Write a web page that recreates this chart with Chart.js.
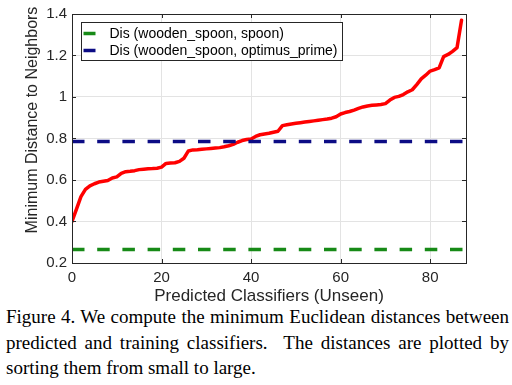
<!DOCTYPE html>
<html>
<head>
<meta charset="utf-8">
<script src="https://cdn.jsdelivr.net/npm/chart.js@4"></script>
<style>
  body { margin: 0; background: #fff; width: 512px; }
  #wrap { position: relative; width: 512px; height: 308px; }
  #caption {
    font-family: "Liberation Serif", "Times New Roman", serif;
    font-size: 19px;
    line-height: 25.5px;
    color: #000;
    margin: -4px 3px 0 6px;
    text-align: justify;
    text-align-last: left;
  }
</style>
</head>
<body>
<div id="wrap"><canvas id="main-chart" width="512" height="308"></canvas></div>
<div id="caption">Figure 4. We compute the minimum Euclidean distances between predicted and training classifiers. &nbsp;The distances are plotted by sorting them from small to large.</div>
<script>
// sorted minimum distances, one per predicted classifier (index 0..87)
const distances = [
    0.40, 0.46, 0.52, 0.555, 0.572, 0.582, 0.59, 0.594, 0.598, 0.61,
    0.615, 0.632, 0.64, 0.642, 0.645, 0.65, 0.652, 0.654, 0.655, 0.657,
    0.662, 0.68, 0.682, 0.683, 0.69, 0.705, 0.74, 0.745, 0.746, 0.748,
    0.75, 0.752, 0.754, 0.756, 0.76, 0.765, 0.772, 0.782, 0.79, 0.795,
    0.798, 0.81, 0.818, 0.822, 0.825, 0.83, 0.835, 0.862, 0.866, 0.87,
    0.873, 0.876, 0.879, 0.882, 0.885, 0.888, 0.891, 0.894, 0.898, 0.905,
    0.918, 0.925, 0.93, 0.937, 0.945, 0.952, 0.957, 0.96, 0.962, 0.964,
    0.968, 0.985, 0.998, 1.003, 1.012, 1.025, 1.035, 1.06, 1.087, 1.105,
    1.125, 1.132, 1.14, 1.195, 1.205, 1.22, 1.238, 1.37
];

// reference distances drawn as dashed horizontal lines
const refLabels = ['Dis (wooden_spoon, spoon)', 'Dis (wooden_spoon, optimus_prime)'];
const refValues = [0.265, 0.786];
const refColors = ['#178a17', '#0c0c85'];

const xLimits = [0, 88];
const yLimits = [0.2, 1.4];
const xTicks = [0, 20, 40, 60, 80];
const yTicks = [0.2, 0.4, 0.6, 0.8, 1.0, 1.2, 1.4];

const axisColor = '#262626';
const sans = '"Liberation Sans", Arial, sans-serif';
const yTitle = 'Minimum Distance to Neighbors';

// MATLAB-ish box, inner tick marks, y label and legend
const boxPlugin = {
    id: 'matlabBox',
    afterDatasetsDraw(chart) {
        const { ctx, chartArea: a, scales } = chart;
        ctx.save();
        ctx.strokeStyle = axisColor;
        ctx.lineWidth = 1;
        ctx.beginPath();
        xTicks.forEach(v => {
            const px = Math.round(scales.x.getPixelForValue(v)) + 0.5;
            ctx.moveTo(px, a.bottom); ctx.lineTo(px, a.bottom - 4);
            ctx.moveTo(px, a.top); ctx.lineTo(px, a.top + 4);
        });
        yTicks.forEach(v => {
            const py = Math.round(scales.y.getPixelForValue(v)) + 0.5;
            ctx.moveTo(a.left, py); ctx.lineTo(a.left + 4, py);
            ctx.moveTo(a.right, py); ctx.lineTo(a.right - 4, py);
        });
        ctx.stroke();
        ctx.strokeRect(Math.round(a.left) + 0.5, Math.round(a.top) + 0.5,
            Math.round(a.right - a.left), Math.round(a.bottom - a.top));

        // y axis label, sits a bit above the axis centre like the original
        ctx.save();
        ctx.translate(33, 120);
        ctx.rotate(-Math.PI / 2);
        ctx.font = '16px ' + sans;
        ctx.fillStyle = axisColor;
        ctx.textAlign = 'center';
        ctx.textBaseline = 'middle';
        ctx.fillText(yTitle, 0, 0);
        ctx.restore();

        // legend box
        ctx.font = '14px ' + sans;
        const textW = Math.max(...refLabels.map(t => ctx.measureText(t).width));
        const bx = a.left + 9.5, by = a.top + 8.5;
        const bw = Math.round(textW + 33), bh = 38;
        ctx.fillStyle = '#fff';
        ctx.fillRect(bx, by, bw, bh);
        ctx.strokeRect(bx, by, bw, bh);
        ctx.textBaseline = 'middle';
        refLabels.forEach((t, i) => {
            const ly = by + 11 + i * 17;
            ctx.strokeStyle = refColors[i];
            ctx.lineWidth = 3.5;
            ctx.beginPath();
            ctx.moveTo(bx + 2, ly); ctx.lineTo(bx + 14, ly);
            ctx.stroke();
            ctx.fillStyle = '#000';
            ctx.fillText(t, bx + 28, ly + 1);
        });
        ctx.restore();
    }
};

class ChartManager {
    constructor() {
        this.chart = null;
        this.initializeChart();
    }

    initializeChart() {
        const ctx = document.getElementById('main-chart').getContext('2d');
        const tickFont = { family: sans, size: 15 };
        const titleFont = { family: sans, size: 17 };

        const refSets = refValues.map((v, i) => ({
            label: refLabels[i],
            data: [{ x: xLimits[0], y: v }, { x: xLimits[1], y: v }],
            borderColor: refColors[i],
            borderWidth: 3.5,
            borderDash: [12.5, 12.7],
            pointRadius: 0,
            fill: false
        }));

        this.chart = new Chart(ctx, {
            type: 'line',
            data: {
                datasets: [...refSets, {
                    label: 'Distance',
                    data: distances.map((v, i) => ({ x: i, y: v })),
                    borderColor: '#ff0000',
                    borderWidth: 3.5,
                    borderJoinStyle: 'round',
                    borderCapStyle: 'round',
                    tension: 0,
                    pointRadius: 0,
                    fill: false
                }]
            },
            options: {
                responsive: false,
                animation: false,
                layout: { padding: { top: 6, right: 46, bottom: 0, left: 0 } },
                plugins: { legend: { display: false }, tooltip: { enabled: false } },
                scales: {
                    x: {
                        type: 'linear',
                        min: xLimits[0],
                        max: xLimits[1],
                        afterBuildTicks: s => { s.ticks = xTicks.map(v => ({ value: v })); },
                        afterFit: s => { s.height = 45; },
                        grid: { color: '#e3e3e3', drawTicks: false },
                        border: { display: false },
                        ticks: { font: tickFont, color: axisColor, padding: 6, maxRotation: 0 },
                        title: {
                            display: true,
                            text: 'Predicted Classifiers (Unseen)',
                            font: titleFont,
                            color: axisColor,
                            padding: { top: 0, bottom: 1 }
                        }
                    },
                    y: {
                        min: yLimits[0],
                        max: yLimits[1],
                        afterBuildTicks: s => { s.ticks = yTicks.map(v => ({ value: v })); },
                        afterFit: s => { s.width = 72; },
                        grid: { color: '#e3e3e3', drawTicks: false },
                        border: { display: false },
                        ticks: {
                            font: tickFont,
                            color: axisColor,
                            padding: 5,
                            callback: v => String(Math.round(v * 10) / 10)
                        },
                        title: { display: false }
                    }
                }
            },
            plugins: [boxPlugin]
        });
    }
}

window.chartManager = new ChartManager();
</script>
</body>
</html>
